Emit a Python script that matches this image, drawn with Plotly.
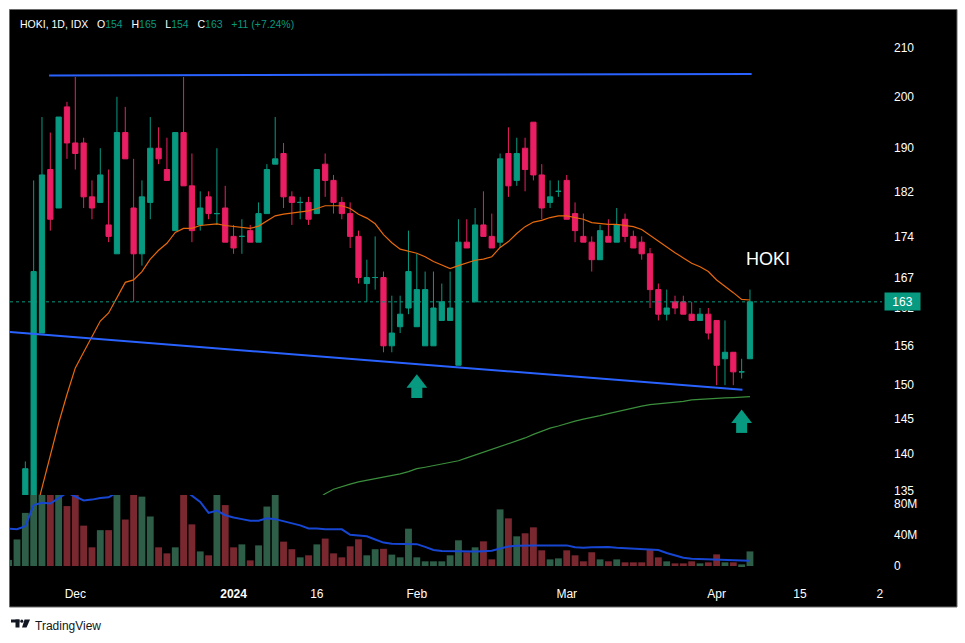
import math
import plotly.graph_objects as go

# ---------------- data (bar index 0 = 23 Nov 2023, 87 = 5 Apr 2024) ----------------
BAR_INDEX = list(range(-2, 88))

OPEN = [130, 131,                                           # -2..-1
        133, 133, 158, 186, 179, 198, 191, 191, 181, 180,   # 0..9
        176, 171, 193, 179, 171, 180, 190, 186, 175, 193,   # 10..19
        183, 176, 181, 178, 179, 174, 174, 175, 173, 178,   # 20..29
        187, 189, 181, 180, 180, 178, 187, 184, 180, 178,   # 30..39
        174, 166, 167, 167, 156, 159, 162, 159, 156, 156,   # 40..49
        160, 160, 153, 173, 163, 176, 174, 173, 189, 184,   # 50..59
        190, 195, 185, 180, 182, 184, 178, 174, 173, 170,   # 60..69
        174, 173, 177, 174, 173, 171, 165, 161, 163, 163,   # 70..79
        161, 160, 161, 160, 154, 155, 152, 154]             # 80..87
HIGH = [132, 134,
        139, 184, 196, 193, 196, 199, 204, 192, 184, 190,
        186, 200, 198, 188, 184, 196, 194, 192, 193, 204,
        189, 182, 182, 190, 183, 176, 177, 176, 180, 187,
        196, 191, 182, 181, 181, 186, 189, 185, 181, 180,
        175, 170, 174, 168, 164, 164, 175, 171, 168, 168,
        166, 168, 177, 177, 179, 182, 178, 189, 194, 192,
        192, 195, 187, 184, 184, 185, 180, 178, 174, 176,
        177, 179, 178, 175, 174, 172, 166, 165, 164, 164,
        163, 162, 162, 160, 160, 155, 154, 165]
LOW = [129, 130,
       132, 132, 158, 175, 179, 188, 186, 179, 177, 180,
       173, 171, 188, 163, 169, 177, 187, 184, 175, 183,
       173, 175, 177, 176, 173, 171, 171, 173, 173, 178,
       187, 179, 176, 177, 176, 178, 181, 178, 177, 172,
       166, 163, 165, 155, 155, 158, 161, 159, 156, 156,
       160, 160, 153, 172, 163, 174, 172, 172, 181, 183,
       182, 184, 177, 179, 181, 177, 173, 173, 168, 170,
       173, 173, 173, 172, 170, 162, 160, 160, 161, 161,
       160, 160, 157, 150, 150, 150, 151, 154]
CLOSE = [131, 133,
         138, 168, 185, 177, 196, 191, 189, 181, 179, 185,
         174, 193, 188, 171, 181, 190, 188, 184, 193, 183,
         175, 179, 178, 178, 173, 172, 174, 173, 178, 186,
         188, 181, 180, 180, 177, 186, 184, 180, 178, 174,
         167, 167, 167, 156, 158, 161, 168, 165, 165, 162,
         163, 162, 173, 172, 176, 174, 172, 188, 183, 189,
         186, 185, 179, 181, 182, 177, 175, 173, 170, 175,
         173, 176, 174, 172, 171, 165, 161, 162, 162, 161,
         160, 161, 158, 153, 155, 152, 152, 163]
VOLUME_M = [7.8, 34,
            68, 250, 200, 150, 130, 76.7, 140, 51.7, 23.9, 45.9,
            45.9, 120, 59.5, 160, 88.8, 63.4, 23.9, 16.2, 23.9, 130,
            53.3, 18.7, 13.7, 150, 78, 23.9, 27.7, 7.2, 26.4, 76.1,
            110, 31.2, 21.5, 11.1, 13.7, 27.7, 35.1, 16.2, 11.1, 25.2,
            34.2, 13.7, 21.5, 22, 14.6, 11.1, 47.8, 11.1, 6, 6,
            6, 13.7, 32.9, 17.6, 23.9, 31.6, 8.5, 72.5, 61, 38,
            41.9, 49.5, 20.1, 8.5, 9.8, 20.1, 13.7, 6, 17.6, 8.5,
            6, 8.5, 4.7, 4.7, 4.7, 21.4, 11.1, 6, 3.4, 3.4,
            6, 3.4, 4.7, 14.9, 4.7, 4.7, 2.1, 18.7]
VOL_MA_M = [48, 47,
            51, 78, 81, 80, 87, 94, 89, 84, 85, 87,
            88, 94, 102, 107, 112, 115, 115, 112, 107, 98,
            90, 82, 68, 71, 65, 62, 60, 58, 58, 61,
            60, 57, 55, 52, 48, 48, 47, 47, 47, 40,
            39, 38, 34, 30, 28.5, 28.5, 28.5, 28, 24.5, 20.5,
            19.2, 19, 18.6, 18.5, 18.7, 19, 19.5, 22.5, 24.9, 25.9,
            26.4, 26.4, 26.4, 26.4, 26.4, 26.4, 23.9, 23.4, 23.9, 24.4,
            24.4, 23.4, 22.9, 22.5, 21.5, 21, 20.5, 16.6, 13.7, 10.7,
            9.3, 8.8, 8.3, 7.8, 7.3, 7.1, 7, 6.8]
EMA20 = [126, 126.6,
         127.2, 131.1, 135.5, 140.0, 144.4, 148.6, 152.6, 155.0, 157.4, 159.9,
         161.2, 163.7, 166.2, 166.6, 168.0, 170.1, 171.6, 172.8, 174.7, 175.4,
         175.4, 175.9, 176.1, 176.2, 175.9, 175.7, 175.5, 175.4, 175.8, 176.7,
         177.6, 177.9, 178.1, 178.3, 178.5, 178.9, 179.4, 179.4, 179.4, 178.9,
         177.9, 177.2, 176.2, 174.3, 172.9, 171.8, 171.5, 171.1, 170.5, 169.7,
         169.1, 168.5, 169.0, 169.4, 169.9, 170.1, 170.5, 172.1, 173.1, 174.5,
         175.7, 176.5, 176.8, 177.3, 177.6, 177.6, 177.3, 177.0, 176.4, 176.2,
         176.1, 176.1, 175.9, 175.7, 175.2, 174.2, 173.1, 172.1, 171.2, 170.3,
         169.4, 168.8, 168.0, 166.6, 165.6, 164.5, 163.4, 163.3]
MA200 = [None] * 37 + [
         133.8, 134.6, 135.2, 135.6, 135.9,                   # 35..39
         136.2, 136.4, 136.7, 136.9, 137.1, 137.3, 137.6, 138.0, 138.2, 138.4,
         138.6, 138.8, 139.1, 139.5, 139.9, 140.3, 140.7, 141.0, 141.4, 141.9,
         142.3, 142.8, 143.3, 143.7, 144.0, 144.4, 144.7, 145.0, 145.2, 145.5,
         145.8, 146.1, 146.4, 146.7, 146.9, 147.1, 147.2, 147.4, 147.5, 147.6,
         147.8, 147.9, 148.0, 148.05, 148.1, 148.15, 148.2, 148.3]

# drawings (bar index, price)
UPPER_LINE_X = [2.85, 87.2]
UPPER_LINE_P = [204.3, 204.6]
LOWER_LINE_X = [-4, 86.1]
LOWER_LINE_P = [158.4, 149.3]
ARROW_X = [47, 86]
ARROW_HEAD_P = [150.3, 145.1]
ARROW_STEM_P = [148.9, 143.8]
LABEL_X, LABEL_P = 89.2, 170.1

TICK_POS = [6, 25, 35, 47, 65, 83, 93, 102.6]
TICK_TEXT = ["Dec", "<b>2024</b>", "16", "Feb", "Mar", "Apr", "15", "2"]
PRICE_TICKS = [135, 140, 145, 150, 156, 162, 167, 174, 182, 190, 200, 210]
VOL_TICKS = [0, 40, 80]
VOL_TICK_TEXT = ["0", "40M", "80M"]

LAST_CLOSE = CLOSE[-1]

# ---------------- style ----------------
W, H = 965, 643
PL, PR, PT, PB = 10, 882, 10, 580          # plot area in px
SPLIT = 495                                 # price / volume boundary px
VOL_FRAC = (PB - SPLIT) / (PB - PT)
X_RANGE = [-1.84, 102.85]
PRICE_RANGE = [2.12848, 2.33865]            # log10
VOL_RANGE = [-17.9, 90.9]
FONT = "Liberation Sans, Arial, sans-serif"
GREEN = "#089981"
RED = "#E91E63"
VOL_GREEN = "#2E5E48"
VOL_RED = "#7A2830"


def px(x):
    return (x - PL) / (PR - PL)


def py(y):
    return (PB - y) / (PB - PT)


up = [c >= o for o, c in zip(OPEN, CLOSE)]

fig = go.Figure()

# volume
fig.add_trace(go.Bar(x=BAR_INDEX, y=VOLUME_M, width=0.82,
                     marker=dict(color=[VOL_GREEN if u else VOL_RED for u in up], line=dict(width=0)),
                     yaxis="y2", xaxis="x", hoverinfo="skip"))
fig.add_trace(go.Scatter(x=BAR_INDEX, y=VOL_MA_M, mode="lines", line=dict(color="#1646D2", width=2),
                         yaxis="y2", xaxis="x", hoverinfo="skip"))

# candles (split so that color follows close >= open)
for flag, col in ((True, GREEN), (False, RED)):
    idx = [k for k, u in enumerate(up) if u == flag]
    fig.add_trace(go.Candlestick(
        x=[BAR_INDEX[k] for k in idx],
        open=[OPEN[k] for k in idx], high=[HIGH[k] for k in idx],
        low=[LOW[k] for k in idx], close=[CLOSE[k] for k in idx],
        increasing=dict(line=dict(color=col, width=1), fillcolor=col),
        decreasing=dict(line=dict(color=col, width=1), fillcolor=col),
        whiskerwidth=0, yaxis="y", xaxis="x", hoverinfo="skip"))

# moving averages
fig.add_trace(go.Scatter(x=BAR_INDEX, y=EMA20, mode="lines", line=dict(color="#E8690B", width=1.2),
                         yaxis="y", hoverinfo="skip"))
fig.add_trace(go.Scatter(x=BAR_INDEX, y=MA200, mode="lines", line=dict(color="#3B8E3C", width=1.2),
                         yaxis="y", hoverinfo="skip", connectgaps=False))

# last price dotted line
fig.add_trace(go.Scatter(x=X_RANGE, y=[LAST_CLOSE, LAST_CLOSE], mode="lines",
                         line=dict(color=GREEN, width=1, dash="dot"), yaxis="y", hoverinfo="skip"))

# trend lines
fig.add_trace(go.Scatter(x=UPPER_LINE_X, y=UPPER_LINE_P, mode="lines",
                         line=dict(color="#2962FF", width=2), yaxis="y", hoverinfo="skip"))
fig.add_trace(go.Scatter(x=LOWER_LINE_X, y=LOWER_LINE_P, mode="lines",
                         line=dict(color="#2962FF", width=2), yaxis="y", hoverinfo="skip"))

# arrow marks
fig.add_trace(go.Scatter(x=ARROW_X, y=ARROW_STEM_P, mode="markers",
                         marker=dict(symbol="square", size=11, color=GREEN, line=dict(width=0)),
                         yaxis="y", hoverinfo="skip"))
fig.add_trace(go.Scatter(x=ARROW_X, y=ARROW_HEAD_P, mode="markers",
                         marker=dict(symbol="triangle-up", size=18, color=GREEN, line=dict(width=0)),
                         yaxis="y", hoverinfo="skip"))

axis_font = dict(color="white", size=12, family=FONT)

fig.update_layout(
    width=W, height=H,
    margin=dict(l=PL, r=W - PR, t=PT, b=H - PB),
    paper_bgcolor="white", plot_bgcolor="black",
    showlegend=False,
    boxgap=0.37, boxgroupgap=0,
    xaxis=dict(range=X_RANGE, anchor="y2", showgrid=False, zeroline=False, showline=False,
               tickmode="array", tickvals=TICK_POS, ticktext=TICK_TEXT, ticks="",
               tickfont=axis_font, ticklabelstandoff=5, rangeslider=dict(visible=False),
               fixedrange=True),
    yaxis=dict(type="log", domain=[VOL_FRAC, 1], range=PRICE_RANGE, side="right", anchor="x",
               tickmode="array", tickvals=PRICE_TICKS, ticktext=[str(v) for v in PRICE_TICKS],
               ticks="", showgrid=False, zeroline=False, showline=False,
               tickfont=axis_font, ticklabelstandoff=11),
    yaxis2=dict(domain=[0, VOL_FRAC], range=VOL_RANGE, side="right", anchor="x",
                tickmode="array", tickvals=VOL_TICKS, ticktext=VOL_TICK_TEXT,
                ticks="", showgrid=False, zeroline=False, showline=False,
                tickfont=axis_font, ticklabelstandoff=11),
)

# chart panel background / border
fig.add_shape(type="rect", xref="paper", yref="paper", layer="below",
              x0=px(9.5), x1=px(957), y0=py(607), y1=py(9.5),
              fillcolor="black", line=dict(color="#6a6a6a", width=1))

# TradingView logo (small glyph)
logo_col = "#131722"
fig.add_shape(type="rect", xref="paper", yref="paper", x0=px(11), x1=px(19.5), y0=py(622.5), y1=py(619.5),
              fillcolor=logo_col, line=dict(width=0))
fig.add_shape(type="rect", xref="paper", yref="paper", x0=px(15.5), x1=px(19.5), y0=py(627.5), y1=py(619.5),
              fillcolor=logo_col, line=dict(width=0))
fig.add_shape(type="circle", xref="paper", yref="paper", x0=px(20.3), x1=px(23.3), y0=py(622.8), y1=py(619.5),
              fillcolor=logo_col, line=dict(width=0))
fig.add_shape(type="path", xref="paper", yref="paper",
              path=f"M {px(24.5)},{py(619.5)} L {px(30)},{py(619.5)} L {px(26.5)},{py(627.5)} "
                   f"L {px(22)},{py(627.5)} Z",
              fillcolor=logo_col, line=dict(width=0))

ann = []
nb = "\u00a0"
g = lambda s: f"<span style='color:{GREEN}'>{s}</span>"
header = (f"HOKI, 1D, IDX{nb*2} O{g('154')}{nb*2} H{g('165')}{nb*2} L{g('154')}{nb*2} "
          f"C{g(str(LAST_CLOSE))}{nb*2} {g('+11 (+7.24%)')}")
ann.append(dict(text=header, xref="paper", yref="paper", x=px(18), y=py(24), xanchor="left",
                yanchor="middle", showarrow=False, font=dict(color="white", size=10.5, family=FONT)))
ann.append(dict(text="HOKI", xref="x", yref="y", x=LABEL_X, y=math.log10(LABEL_P), xanchor="center",
                yanchor="middle", showarrow=False, font=dict(color="white", size=18, family=FONT)))
ann.append(dict(text=str(LAST_CLOSE), xref="paper", yref="y", x=1, y=math.log10(LAST_CLOSE),
                xanchor="left", yanchor="middle", xshift=2, showarrow=False, bgcolor=GREEN,
                width=31, height=13, borderpad=2, align="center",
                font=dict(color="white", size=12, family=FONT)))
ann.append(dict(text="TradingView", xref="paper", yref="paper", x=px(33), y=py(626), xanchor="left",
                yanchor="middle", showarrow=False, font=dict(color="#131722", size=12, family=FONT)))
fig.update_layout(annotations=ann)

fig.write_html("out.html")
